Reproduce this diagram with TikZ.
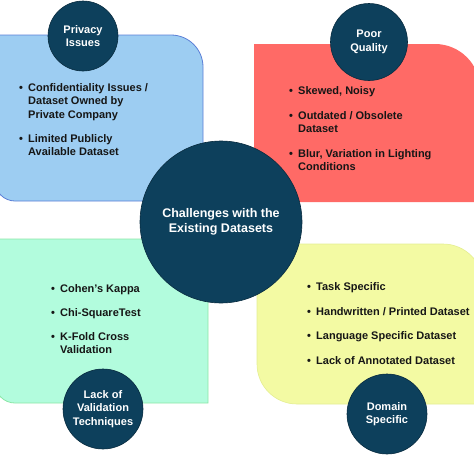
\documentclass[tikz,border=0pt]{standalone}
\usepackage{fontspec}
\setmainfont{Liberation Sans}

\definecolor{hubfill}{HTML}{0D405C}
\definecolor{hubedge}{HTML}{082B3F}
\definecolor{privfill}{HTML}{9DCDF2}
\definecolor{privedge}{HTML}{5B7FD6}
\definecolor{qualfill}{HTML}{FF6A66}
\definecolor{valfill}{HTML}{B2FCDD}
\definecolor{valedge}{HTML}{8BE6A6}
\definecolor{domfill}{HTML}{F3FAA3}
\definecolor{domedge}{HTML}{E4EE92}
\definecolor{textdark}{HTML}{161616}

\tikzset{
  hub/.style={circle, fill=hubfill, draw=hubedge, line width=0.6pt, text=white,
    align=center, inner sep=0pt, font=\bfseries\fontsize{11}{13.5}\selectfont},
  point/.style={anchor=base west, inner sep=0pt, text=textdark,
    font=\bfseries\fontsize{11}{13.5}\selectfont},
}
\newcommand{\bitem}[1]{\makebox[9pt][l]{\textbullet}\begin{tabular}[t]{@{}l@{}}#1\end{tabular}}

\begin{document}
\begin{tikzpicture}[x=1pt, y=-1pt]
  \useasboundingbox (0,0) rectangle (474,474);
  \clip (0,0) rectangle (474,474);

  % the four panels
  \filldraw[fill=privfill, draw=privedge, line width=0.8pt]
    (-5,35) -- (171,35) arc[start angle=-90, end angle=0, radius=32]
    -- (203,201) -- (15,201) arc[start angle=90, end angle=180, radius=20] -- cycle;
  \fill[qualfill]
    (254,44) -- (435,44) arc[start angle=-90, end angle=0, radius=45]
    -- (480,202) -- (254,202) -- cycle;
  \filldraw[fill=valfill, draw=valedge, line width=0.8pt]
    (-5,239) -- (208,239) -- (208,403) -- (15,403)
    arc[start angle=90, end angle=180, radius=20] -- cycle;
  \filldraw[fill=domfill, draw=domedge, line width=0.6pt]
    (257,244) -- (443,244) arc[start angle=-90, end angle=0, radius=40]
    -- (483,404) -- (297,404) arc[start angle=90, end angle=180, radius=40] -- cycle;

  % panel texts
  \node[point] (p1) at (19,91) {\bitem{Confidentiality Issues /\\Dataset Owned by\\Private Company}};
  \node[point] (p2) at (19,142) {\bitem{Limited Publicly\\Available Dataset}};

  \node[point] (q1) at (289,94) {\bitem{Skewed, Noisy}};
  \node[point] (q2) at (289,119) {\bitem{Outdated / Obsolete\\Dataset}};
  \node[point] (q3) at (289,157) {\bitem{Blur, Variation in Lighting\\Conditions}};

  \node[point] (v1) at (51,292) {\bitem{Cohen's Kappa}};
  \node[point] (v2) at (51,316) {\bitem{Chi-SquareTest}};
  \node[point] (v3) at (51,340) {\bitem{K-Fold Cross\\Validation}};

  \node[point] (d1) at (307,290) {\bitem{Task Specific}};
  \node[point] (d2) at (307,315) {\bitem{Handwritten / Printed Dataset}};
  \node[point] (d3) at (307,339) {\bitem{Language Specific Dataset}};
  \node[point] (d4) at (307,364) {\bitem{Lack of Annotated Dataset}};

  % circles
  \node[hub, minimum size=162pt, font=\bfseries\fontsize{12.5}{15}\selectfont] (hub) at (221,222)
    {Challenges with the\\Existing Datasets};
  \node[hub, minimum size=70pt] (privacy) at (83,36) {Privacy\\Issues};
  \node[hub, minimum size=77pt] (quality) at (369,42) {Poor\\Quality};
  \node[hub, minimum size=80pt] (validation) at (103,409) {Lack of\\Validation\\Techniques};
  \node[hub, minimum size=80pt] (domain) at (387,414) {Domain\\Specific};
\end{tikzpicture}
\end{document}
